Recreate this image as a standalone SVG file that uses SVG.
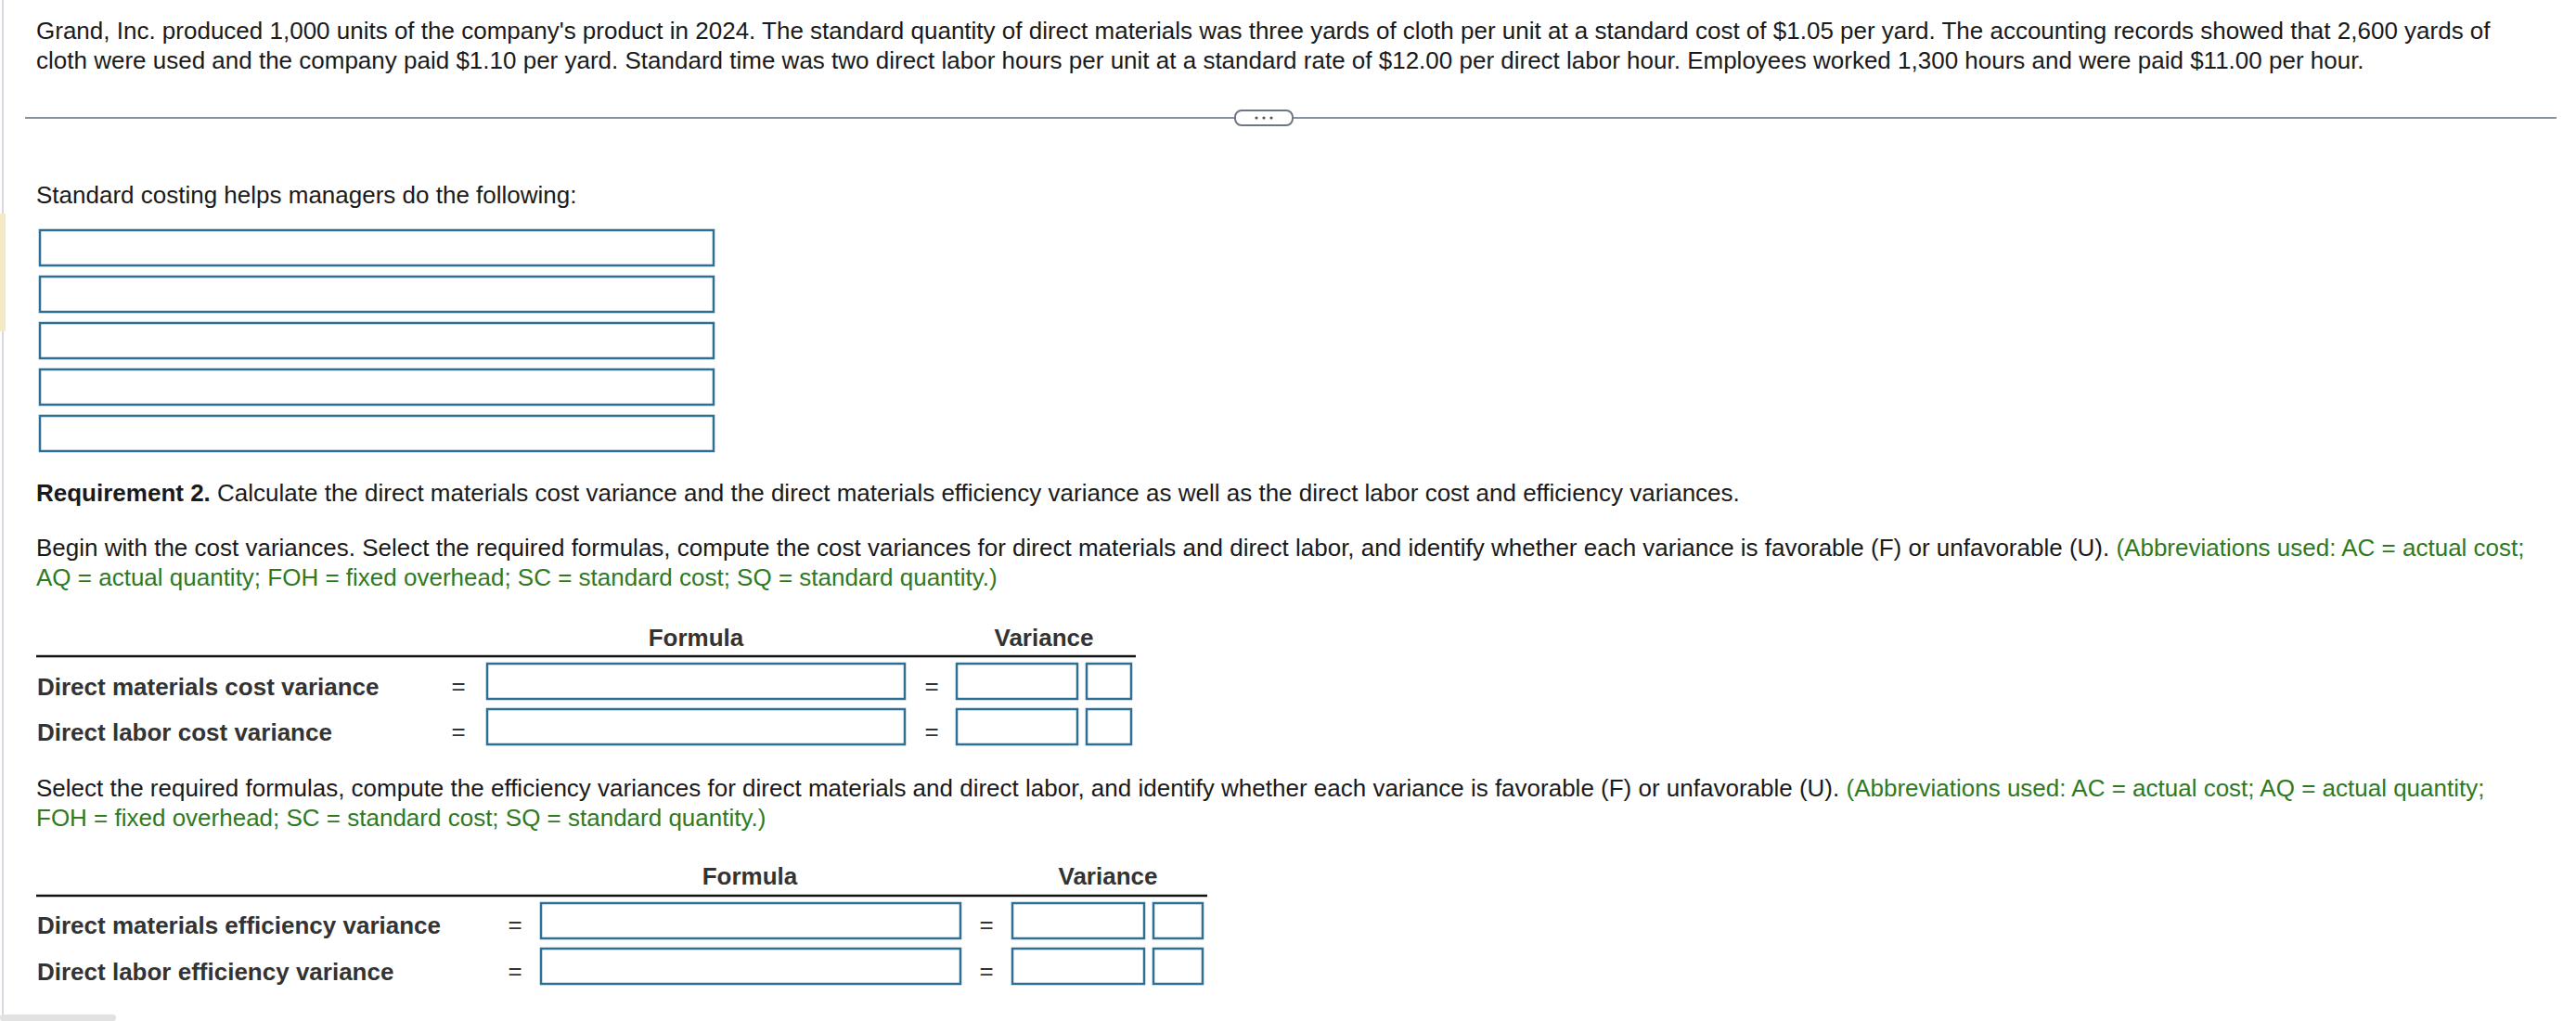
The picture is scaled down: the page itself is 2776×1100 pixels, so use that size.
<svg xmlns="http://www.w3.org/2000/svg" width="2776" height="1100" viewBox="0 0 2776 1100">
<style>
text{font-family:"Liberation Sans",Arial,sans-serif;font-size:26px;fill:#1a1a1a}
.g{fill:#2f7a1f}
.lb{font-weight:bold;fill:#333}
.hd{font-weight:bold;fill:#333;text-anchor:middle}
.bx{fill:#fff;stroke:#2f6f94;stroke-width:2.5}
.eq{fill:#333;text-anchor:middle}
</style>
<rect width="2776" height="1100" fill="#fff"/>
<rect x="2" y="0" width="2" height="1100" fill="#d6d9e0"/>
<rect x="0" y="230" width="6" height="127" fill="#f3e9c4"/>
<rect x="0" y="1093" width="125" height="7" rx="3" fill="#e2e2e2"/>
<g id="problem">
<text x="39" y="42">Grand, Inc. produced 1,000 units of the company's product in 2024. The standard quantity of direct materials was three yards of cloth per unit at a standard cost of $1.05 per yard. The accounting records showed that 2,600 yards of</text>
<text x="39" y="74">cloth were used and the company paid $1.10 per yard. Standard time was two direct labor hours per unit at a standard rate of $12.00 per direct labor hour. Employees worked 1,300 hours and were paid $11.00 per hour.</text>
</g>
<g id="divider">
<line x1="27" y1="127" x2="2755" y2="127" stroke="#8792a0" stroke-width="2"/>
<rect x="1331" y="119" width="62" height="16" rx="7" fill="#fff" stroke="#6d7785" stroke-width="2"/>
<circle cx="1354" cy="127" r="1.6" fill="#555"/><circle cx="1362" cy="127" r="1.6" fill="#555"/><circle cx="1370" cy="127" r="1.6" fill="#555"/>
</g>
<g id="standard-costing">
<text x="39" y="219">Standard costing helps managers do the following:</text>
<rect class="bx" x="43" y="248" width="726" height="38"/>
<rect class="bx" x="43" y="298" width="726" height="38"/>
<rect class="bx" x="43" y="348" width="726" height="38"/>
<rect class="bx" x="43" y="398" width="726" height="38"/>
<rect class="bx" x="43" y="448" width="726" height="38"/>
</g>
<g id="requirement">
<text x="39" y="540"><tspan font-weight="bold">Requirement 2.</tspan> Calculate the direct materials cost variance and the direct materials efficiency variance as well as the direct labor cost and efficiency variances.</text>
<text x="39" y="599">Begin with the cost variances. Select the required formulas, compute the cost variances for direct materials and direct labor, and identify whether each variance is favorable (F) or unfavorable (U). <tspan class="g">(Abbreviations used: AC = actual cost;</tspan></text>
<text x="39" y="631" class="g">AQ = actual quantity; FOH = fixed overhead; SC = standard cost; SQ = standard quantity.)</text>
</g>
<g id="cost-table">
<text class="hd" x="750" y="696">Formula</text>
<text class="hd" x="1125" y="696">Variance</text>
<line x1="39" y1="707" x2="1224" y2="707" stroke="#111" stroke-width="2.5"/>
<text class="lb" x="40" y="749">Direct materials cost variance</text>
<text class="eq" x="494" y="748">=</text>
<rect class="bx" x="525" y="715" width="450" height="38"/>
<text class="eq" x="1004" y="748">=</text>
<rect class="bx" x="1031" y="715" width="130" height="38"/>
<rect class="bx" x="1171" y="715" width="48" height="38"/>
<text class="lb" x="40" y="798">Direct labor cost variance</text>
<text class="eq" x="494" y="797">=</text>
<rect class="bx" x="525" y="764" width="450" height="38"/>
<text class="eq" x="1004" y="797">=</text>
<rect class="bx" x="1031" y="764" width="130" height="38"/>
<rect class="bx" x="1171" y="764" width="48" height="38"/>
</g>
<g id="efficiency-intro">
<text x="39" y="858">Select the required formulas, compute the efficiency variances for direct materials and direct labor, and identify whether each variance is favorable (F) or unfavorable (U). <tspan class="g">(Abbreviations used: AC = actual cost; AQ = actual quantity;</tspan></text>
<text x="39" y="890" class="g">FOH = fixed overhead; SC = standard cost; SQ = standard quantity.)</text>
</g>
<g id="efficiency-table">
<text class="hd" x="808" y="953">Formula</text>
<text class="hd" x="1194" y="953">Variance</text>
<line x1="39" y1="965" x2="1301" y2="965" stroke="#111" stroke-width="2.5"/>
<text class="lb" x="40" y="1006">Direct materials efficiency variance</text>
<text class="eq" x="555" y="1005">=</text>
<rect class="bx" x="583" y="973" width="452" height="38"/>
<text class="eq" x="1063" y="1005">=</text>
<rect class="bx" x="1091" y="973" width="142" height="38"/>
<rect class="bx" x="1243" y="973" width="53" height="38"/>
<text class="lb" x="40" y="1056">Direct labor efficiency variance</text>
<text class="eq" x="555" y="1055">=</text>
<rect class="bx" x="583" y="1022" width="452" height="38"/>
<text class="eq" x="1063" y="1055">=</text>
<rect class="bx" x="1091" y="1022" width="142" height="38"/>
<rect class="bx" x="1243" y="1022" width="53" height="38"/>
</g>
</svg>
